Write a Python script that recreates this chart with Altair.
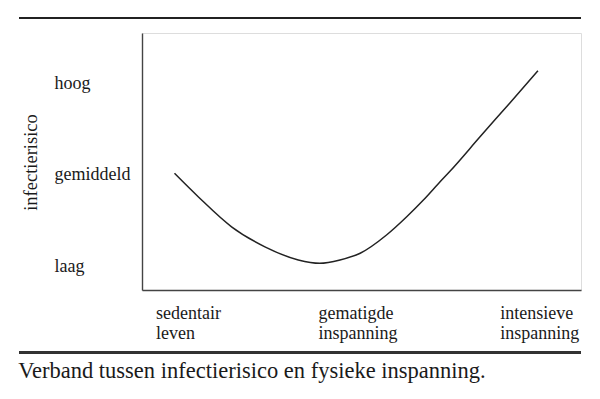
import altair as alt
import pandas as pd

# curve (x: inspanning 0-100, y: infectierisico 0-100)
curve_x = [7.4, 12.8, 20.4, 28.0, 35.6, 40.5, 45.1, 49.7, 55.7, 60.3, 64.1, 67.9, 70.2, 77.0, 83.8, 90.2]
curve_y = [45.4, 36.3, 24.6, 16.8, 11.7, 10.4, 11.7, 14.3, 21.4, 28.5, 35.0, 42.1, 46.3, 59.6, 72.8, 85.3]

x_ticks = [3.1, 40.1, 81.5]
x_labels = [["sedentair", "leven"], ["gematigde", "inspanning"], ["intensieve", "inspanning"]]
y_ticks = [9.1, 44.8, 80.2]
y_labels = ["laag", "gemiddeld", "hoog"]
y_title = "infectierisico"
caption = "Verband tussen infectierisico en fysieke inspanning."

FONT = "Liberation Serif"
TXT = "#1a1a1a"

df = pd.DataFrame({"x": curve_x, "y": curve_y})

def expr_for(ticks, labels):
    parts = []
    for t, l in zip(ticks, labels):
        if isinstance(l, list):
            lab = "[" + ",".join("'" + s + "'" for s in l) + "]"
        else:
            lab = "'" + l + "'"
        parts.append(f"abs(datum.value - {t}) < 0.01 ? {lab} : ")
    return "".join(parts) + "''"

x_enc = alt.X(
    "x:Q",
    scale=alt.Scale(domain=[0, 100], nice=False, zero=False),
    axis=alt.Axis(
        values=x_ticks, labelExpr=expr_for(x_ticks, x_labels), title=None,
        ticks=False, grid=False, domainColor="#444", domainWidth=1.4,
        labelFont=FONT, labelFontSize=18, labelColor=TXT, labelAlign="left",
        labelBaseline="top", labelPadding=14, labelLineHeight=20,
        labelFlush=False, labelOverlap=False,
    ),
)
y_enc = alt.Y(
    "y:Q",
    scale=alt.Scale(domain=[0, 100], nice=False, zero=False),
    axis=alt.Axis(
        values=y_ticks, labelExpr=expr_for(y_ticks, y_labels), title=y_title,
        ticks=False, grid=False, domainColor="#444", domainWidth=1.4,
        labelFont=FONT, labelFontSize=18, labelColor=TXT, labelAlign="left",
        labelBaseline="middle", labelPadding=88, labelFlush=False, labelOverlap=False,
        titleFont=FONT, titleFontSize=18.5, titleFontWeight="normal", titleColor=TXT,
        titleAngle=270, titleBaseline="alphabetic", titleAlign="center",
        titleX=-106, titleY=129,
    ),
)

line = alt.Chart(df).mark_line(color="#222", strokeWidth=1.5, interpolate="monotone").encode(
    x=x_enc, y=y_enc
)

top_rule = alt.Chart(df).mark_rule(color="#222", strokeWidth=1.5).encode(
    x=alt.value(-123), x2=alt.value(439), y=alt.value(-15)
)
bottom_rule = alt.Chart(df).mark_rule(color="#333", strokeWidth=1.3).encode(
    x=alt.value(-123), x2=alt.value(439), y=alt.value(319.5)
)

chart = alt.layer(line, top_rule, bottom_rule).properties(
    width=439,
    height=257,
    autosize=alt.AutoSizeParams(type="none"),
    padding={"left": 142, "top": 33, "right": 19, "bottom": 109},
    title=alt.TitleParams(
        caption, orient="bottom", anchor="start", frame="bounds",
        font=FONT, fontSize=22.5, fontWeight="normal", color=TXT,
        baseline="top", offset=7,
    ),
).configure_view(stroke=None).configure(background="white")

chart.save("out.html", embed_options={"renderer": "svg", "actions": False})
